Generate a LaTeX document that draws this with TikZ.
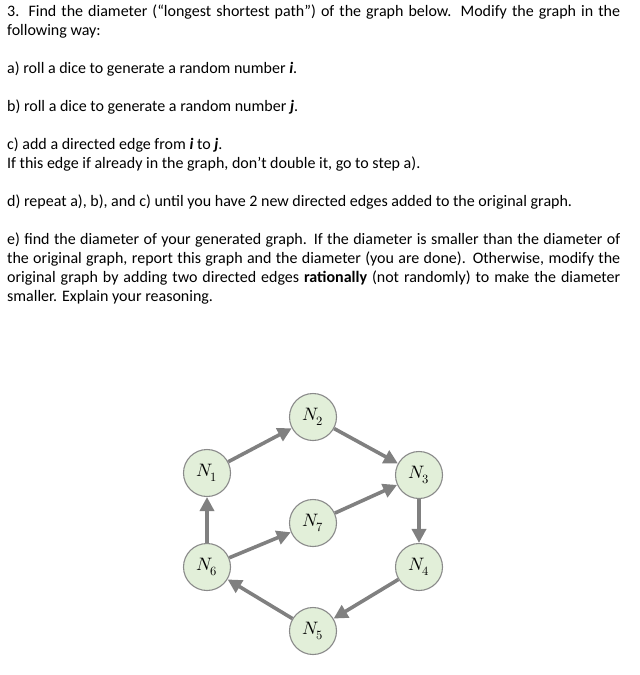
\documentclass[tikz,border=0pt]{standalone}
\usepackage{fontspec}
\usepackage{unicode-math}
\setmainfont{Carlito}
\setmathfont{Latin Modern Math}
\usetikzlibrary{arrows.meta}
\definecolor{nodefill}{HTML}{E2EFD9}
\definecolor{nodeedge}{HTML}{8A8A8A}
\definecolor{arrowgray}{HTML}{808080}
\tikzset{
  gnode/.style={circle, draw=nodeedge, fill=nodefill, line width=1.1pt, minimum size=47pt, inner sep=0pt, font=\fontsize{18}{20}\selectfont},
  garrow/.style={draw=arrowgray, line width=3.6pt, -{Triangle[length=14pt,width=14pt]}},
  qtext/.style={anchor=north west, inner sep=0pt, text width=613pt, align=justify, font=\fontsize{16}{19}\selectfont}
}
\begin{document}
\begin{tikzpicture}[x=1pt,y=-1pt]
\useasboundingbox (0,0) rectangle (640,675);
\node[qtext] (txt) at (7,4.5) {\setlength{\parskip}{19pt}%
3. Find the diameter (“longest shortest path”) of the graph below. Modify the graph in the following way:\par
a) roll a dice to generate a random number \textbf{\textit{i}}.\par
b) roll a dice to generate a random number \textbf{\textit{j}}.\par
c) add a directed edge from \textbf{\textit{i}} to \textbf{\textit{j}}.\newline
If this edge if already in the graph, don’t double it, go to step a).\par
d) repeat a), b), and c) until you have 2 new directed edges added to the original graph.\par
e) find the diameter of your generated graph. If the diameter is smaller than the diameter of the original graph, report this graph and the diameter (you are done). Otherwise, modify the original graph by adding two directed edges \textbf{rationally} (not randomly) to make the diameter smaller. Explain your reasoning.\par};
\node[gnode] (n2) at (313,417) {$N_2$};
\node[gnode] (n1) at (207,473) {$N_1$};
\node[gnode] (n3) at (419,475) {$N_3$};
\node[gnode] (n7) at (313,523) {$N_7$};
\node[gnode] (n6) at (207,567) {$N_6$};
\node[gnode] (n4) at (419,567) {$N_4$};
\node[gnode] (n5) at (313,631) {$N_5$};
\draw[garrow] (n1) -- (n2);
\draw[garrow] (n2) -- (n3);
\draw[garrow] (n7) -- (n3);
\draw[garrow] (n3) -- (n4);
\draw[garrow] (n4) -- (n5);
\draw[garrow] (n5) -- (n6);
\draw[garrow] (n6) -- (n7);
\draw[garrow] (n6) -- (n1);
\end{tikzpicture}
\end{document}
